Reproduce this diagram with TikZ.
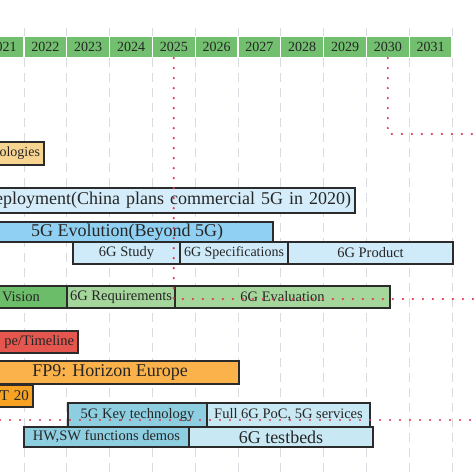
\documentclass[tikz,border=0pt]{standalone}
\usepackage{fontspec}
\setmainfont{Liberation Serif}
\usepackage{tikz}
\usetikzlibrary{positioning}
\definecolor{headgreen}{HTML}{72BF6F}
\definecolor{visiongreen}{HTML}{6CBD69}
\definecolor{reqgreen}{HTML}{A5D69C}
\definecolor{deployblue}{HTML}{D5EDFA}
\definecolor{evoblue}{HTML}{90D0F2}
\definecolor{studyblue}{HTML}{CFEAF9}
\definecolor{techorange}{HTML}{F8D491}
\definecolor{timered}{HTML}{E5574E}
\definecolor{fpnineorange}{HTML}{FBB24A}
\definecolor{torange}{HTML}{F6A323}
\definecolor{keyblue}{HTML}{8DCFE1}
\definecolor{pocblue}{HTML}{C8E8F3}
\definecolor{boxline}{HTML}{2B2B2B}
\definecolor{gridgray}{HTML}{D8DCE1}
\definecolor{dotred}{HTML}{E03A50}
\tikzset{
year_cell/.style={rectangle, fill=headgreen, draw=white, line width=1.2pt, minimum width=42.8pt, minimum height=21pt, inner sep=0pt, text=black!85, font=\fontsize{14}{14}\selectfont},
phase/.style={rectangle, draw=boxline, line width=1.1pt, inner sep=0pt, outer sep=0pt, minimum height=22pt, text=black!85, font=\fontsize{14.5}{14.5}\selectfont},
big_phase/.style={phase, font=\fontsize{18}{18}\selectfont},
cut_left/.style={text width=#1, align=right, inner xsep=4pt},
grid_line/.style={draw=gridgray, line width=0.8pt, dash pattern=on 9pt off 6pt},
milestone/.style={draw=dotred, line width=2.4pt, line cap=round, dash pattern=on 0pt off 10pt}
}

\begin{document}
\begin{tikzpicture}[x=1pt, y=-1pt]
    \useasboundingbox (0,0) rectangle (474,474);
    \clip (0,0) rectangle (474,474);
    \foreach \k in {0,...,10}
        \draw[grid_line] (24+42.8*\k, 28) -- (24+42.8*\k, 474);
    \foreach \yr [count=\i from 0] in {2021,...,2031}
        \node[year_cell] (y\yr) at (2.6+42.8*\i, 47) {\yr};

    \node[phase, fill=techorange, cut_left=80pt, minimum height=23pt, anchor=east, font=\fontsize{14}{14}\selectfont] (tech_5g) at (44,153.5) {ologies};
    \node[big_phase, fill=deployblue, cut_left=360pt, minimum height=25pt, anchor=east] (deploy_5g) at (355,200.5) {eployment(China plans commercial 5G in 2020)};
    \node[big_phase, fill=evoblue, minimum width=292pt, minimum height=20pt, anchor=west] (evo_5g) at (-19,232) {5G Evolution(Beyond 5G)};
    \node[phase, fill=studyblue, minimum width=107pt, anchor=west] (study_6g) at (73,253) {6G Study};
    \node[phase, fill=studyblue, minimum width=108pt, font=\fontsize{14}{14}\selectfont, right=0 of study_6g] (spec_6g) {6G Specifications};
    \node[phase, fill=studyblue, minimum width=165pt, right=0 of spec_6g] (product_6g) {6G Product};

    \node[phase, fill=visiongreen, minimum width=92pt, anchor=west] (vision_6g) at (-25,297) {Vision};
    \node[phase, fill=reqgreen, minimum width=108pt, right=0 of vision_6g] (req_6g) {6G Requirements};
    \node[phase, fill=reqgreen, minimum width=215pt, right=0 of req_6g] (eval_6g) {6G Evaluation};
    \draw[draw=boxline, line width=2pt] (eval_6g.north west) -- (eval_6g.south west);

    \node[phase, fill=timered, cut_left=90pt, anchor=east] (timeline) at (78,342) {pe/Timeline};
    \node[big_phase, fill=fpnineorange, minimum width=258pt, minimum height=23pt, anchor=west] (fp9) at (-19,372.5) {FP9: Horizon Europe};
    \node[phase, fill=torange, cut_left=40pt, anchor=east, font=\fontsize{15}{15}\selectfont] (t20) at (33,396) {T 20};

    \node[phase, fill=keyblue, minimum width=139pt, minimum height=24pt, anchor=west] (key_5g) at (68,415) {5G Key technology};
    \node[phase, fill=pocblue, minimum width=163pt, minimum height=24pt, right=0 of key_5g] (poc_6g) {Full 6G PoC, 5G services};
    \node[phase, fill=keyblue, minimum width=165pt, minimum height=20pt, anchor=west] (demo_hw) at (24,437) {HW,SW functions demos};
    \node[big_phase, fill=pocblue, minimum width=184pt, minimum height=20pt, right=0 of demo_hw] (testbed_6g) {6G testbeds};

    % milestones
    \coordinate (m2025_end) at (474,299);
    \coordinate (m2030_end) at (474,134);
    \coordinate (m_left) at (0,420);
    \coordinate (m_right) at (474,420);
    \draw[milestone] (y2025.south) |- (m2025_end);
    \draw[milestone] (y2030.south) |- (m2030_end);
    \draw[milestone] (m_left) -- (m_right);
\end{tikzpicture}
\end{document}
